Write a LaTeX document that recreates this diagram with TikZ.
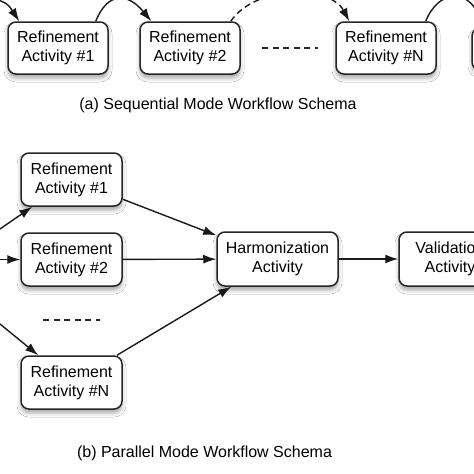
\documentclass[tikz,border=0pt]{standalone}
\usepackage{fontspec}
\setmainfont{Liberation Sans}
\usetikzlibrary{arrows.meta,shadows.blur}
\tikzset{
  actbox/.style={draw=black!85, line width=1.5pt, rounded corners=8pt, fill=white,
    align=center, inner sep=0pt, font=\fontsize{16}{19}\selectfont,
    blur shadow={shadow xshift=0pt, shadow yshift=-4pt, shadow blur radius=4pt, shadow opacity=35}},
  arr/.style={line width=1.4pt, black!90, -{Latex[length=13pt,width=9pt]}},
  dasharr/.style={arr, dash pattern=on 6pt off 4pt},
  dashline/.style={line width=1.3pt, black!85, dash pattern=on 6pt off 4.5pt},
  caption/.style={font=\fontsize{16}{19}\selectfont, inner sep=0pt}
}
\begin{document}
\begin{tikzpicture}[x=1pt,y=-1pt]
\useasboundingbox (0,0) rectangle (474,474);
\clip (0,0) rectangle (474,474);
\fill[white] (0,0) rectangle (474,474);

% (a) sequential
\node[actbox, minimum width=100pt, minimum height=52pt] (s1) at (58,48) {Refinement\\Activity \#1};
\node[actbox, minimum width=100pt, minimum height=52pt] (s2) at (190,48) {Refinement\\Activity \#2};
\node[actbox, minimum width=100pt, minimum height=52pt] (sN) at (386,48) {Refinement\\Activity \#N};
\node[actbox, minimum width=100pt, minimum height=42pt] (sX) at (522,49) {};

\coordinate (tin) at (-6,-2);
\draw[arr] (tin) .. controls (8,4) .. ([xshift=12pt]s1.north west);
\draw[arr] ([xshift=-13pt]s1.north east) .. controls (108,-9) and (128,-7) .. ([xshift=12pt]s2.north west);
\draw[dasharr] ([xshift=-10pt]s2.north east) .. controls (255,-15) and (330,-15) .. ([xshift=14pt]sN.north west);
\draw[arr] ([xshift=-11pt]sN.north east) .. controls (438,-10) and (468,-12) .. ([xshift=12pt]sX.north west);
\coordinate (da1) at (262,48);
\coordinate (da2) at (318,48);
\draw[dashline] (da1) -- (da2);

\node[caption] (capa) at (218,105) {(a) Sequential Mode Workflow Schema};

% (b) parallel
\node[actbox, minimum width=101pt, minimum height=53pt] (p1) at (71.5,179.5) {Refinement\\Activity \#1};
\node[actbox, minimum width=101pt, minimum height=53pt] (p2) at (71.5,259.5) {Refinement\\Activity \#2};
\node[actbox, minimum width=101pt, minimum height=53pt] (pN) at (71.5,382.5) {Refinement\\Activity \#N};
\node[actbox, minimum width=121pt, minimum height=54pt] (harm) at (277.5,259) {Harmonization\\Activity};
\node[actbox, minimum width=102pt, minimum height=54pt] (val) at (450,259) {Validation\\Activity};

\coordinate (in1) at (0,229);
\coordinate (in2) at (0,259.5);
\coordinate (inN) at (0,324);
\draw[arr] (in1) -- (p1);
\draw[arr] (in2) -- (p2);
\draw[arr] (inN) -- (pN);
\draw[arr] (p1) -- (harm);
\draw[arr] (p2) -- (harm);
\draw[arr] (pN) -- (harm);
\draw[arr] (harm) -- (val);

\coordinate (db1) at (43,320);
\coordinate (db2) at (100,320);
\draw[dashline] (db1) -- (db2);

\node[caption] (capb) at (204.5,453) {(b) Parallel Mode Workflow Schema};
\end{tikzpicture}
\end{document}
